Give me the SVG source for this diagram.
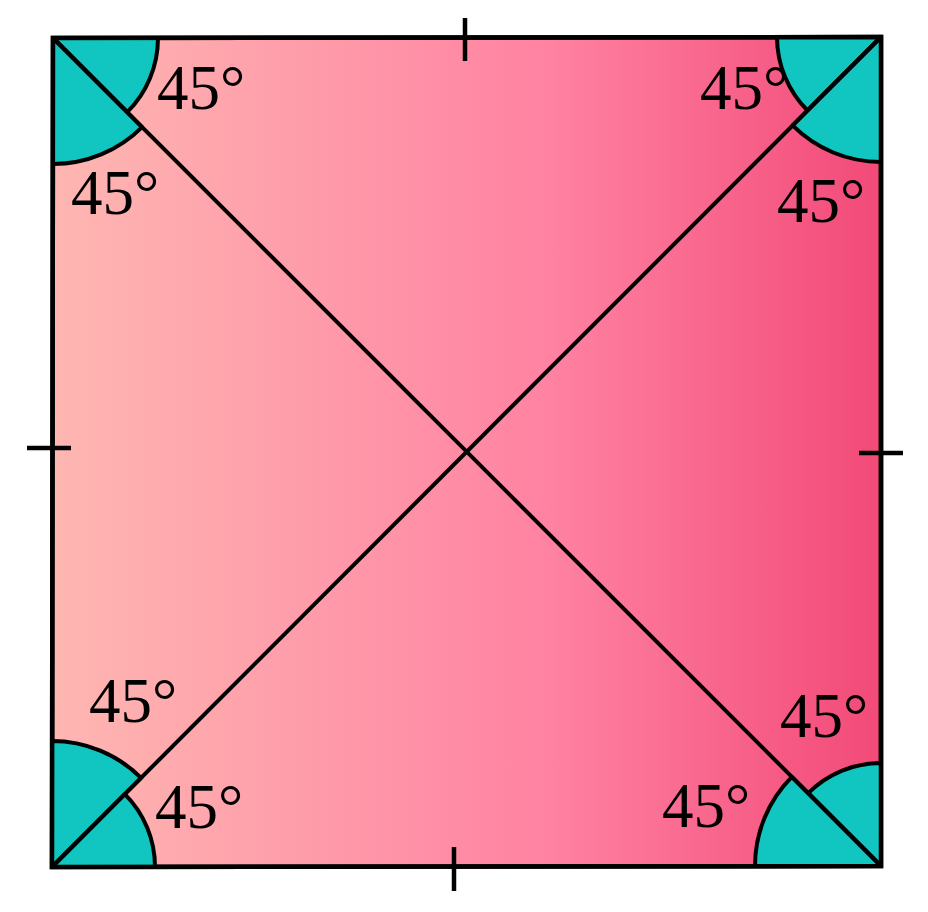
<svg xmlns="http://www.w3.org/2000/svg" width="928" height="912" viewBox="0 0 928 912">
<defs>
<linearGradient id="bg" x1="0" y1="0" x2="1" y2="0">
<stop offset="0" stop-color="#FEB7B2"/>
<stop offset="0.6" stop-color="#FF82A2"/>
<stop offset="1" stop-color="#F24A78"/>
</linearGradient>
</defs>
<style>
.sq{fill:url(#bg);stroke:#000;stroke-width:4.5;stroke-linejoin:miter}
.sec{fill:#11C6C0;stroke:#000;stroke-width:4;stroke-linejoin:round}
.ln{stroke:#000;stroke-width:4;fill:none}
.tk{stroke:#000;stroke-width:4.5}
.lb{font-family:"Liberation Serif","Times New Roman",serif;font-size:63px;fill:#000}
</style>
<g id="square">
<polygon class="sq" points="53,38 881,37 881,866 52,867"/>
</g>
<g id="corner-tl">
<path class="sec" d="M53,38 L158,38 A105,105 0 0 1 127.2,112.2 Z"/>
<path class="sec" d="M53,38 L142.1,127.1 A126,126 0 0 1 53,164 Z"/>
</g>
<g id="corner-tr">
<path class="sec" d="M881,37 L777,37 A104,104 0 0 0 807.5,110.5 Z"/>
<path class="sec" d="M881,37 L792.6,125.4 A125,125 0 0 0 881,162 Z"/>
</g>
<g id="corner-bl">
<path class="sec" d="M52,867 L52,741 A126,126 0 0 1 141.1,777.9 Z"/>
<path class="sec" d="M52,867 L124.8,794.2 A103,103 0 0 1 155,867 Z"/>
</g>
<g id="corner-br">
<path class="sec" d="M881,866 L881,763 A103,103 0 0 0 808.2,793.2 Z"/>
<path class="sec" d="M881,866 L791.9,776.9 A126,126 0 0 0 755,866 Z"/>
</g>
<g id="connectors">
<line class="ln" x1="53" y1="38" x2="881" y2="866"/>
<line class="ln" x1="881" y1="37" x2="52" y2="867"/>
<line class="tk" x1="465" y1="18" x2="465" y2="61"/>
<line class="tk" x1="27" y1="448" x2="71" y2="448"/>
<line class="tk" x1="859" y1="453" x2="903" y2="453"/>
<line class="tk" x1="454" y1="847" x2="454" y2="891"/>
</g>
<g id="outline">
<polygon points="53,38 881,37 881,866 52,867" fill="none" stroke="#000" stroke-width="4.5"/>
</g>
<g id="labels">
<text class="lb" x="157" y="109">45°</text>
<text class="lb" x="71" y="214">45°</text>
<text class="lb" x="700" y="109">45°</text>
<text class="lb" x="777" y="222">45°</text>
<text class="lb" x="89" y="722">45°</text>
<text class="lb" x="155" y="828">45°</text>
<text class="lb" x="780" y="737">45°</text>
<text class="lb" x="662" y="827">45°</text>
</g>
</svg>
